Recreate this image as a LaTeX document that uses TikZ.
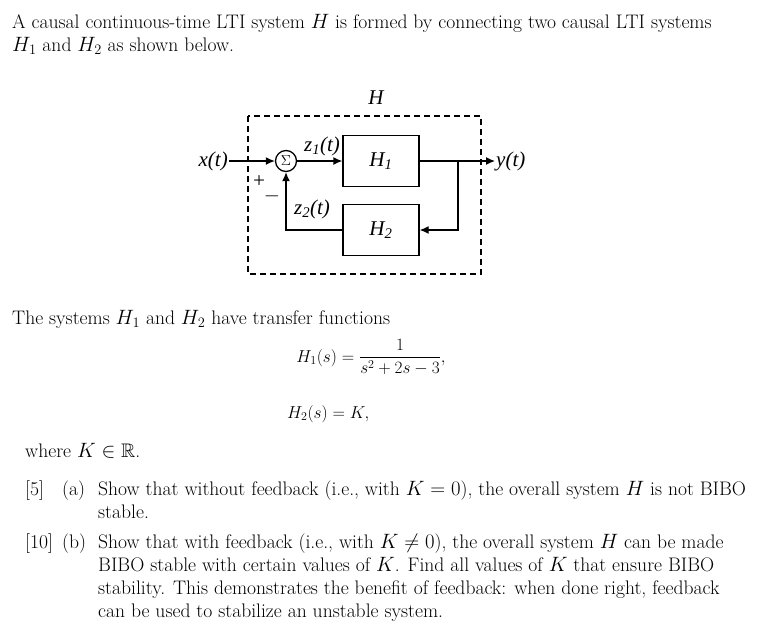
\documentclass[tikz,border=0pt]{standalone}
\usepackage{amsmath,amssymb}
\usepackage{fontspec}
\newfontfamily\diag{Liberation Serif}
\usetikzlibrary{arrows.meta}
\begin{document}
\begin{tikzpicture}[x=1pt,y=-1pt,
  txt/.style={anchor=base west,inner sep=0pt,font=\fontsize{19.6}{24}\selectfont},
  blk/.style={draw,line width=1.3pt,minimum width=76pt,minimum height=51pt,font=\diag\itshape\fontsize{21}{24}\selectfont},
  lab/.style={font=\diag\itshape\fontsize{21}{24}\selectfont,inner sep=1pt},
  sig/.style={line width=1.3pt,-{Latex[length=9pt,width=8pt]}},
  wire/.style={line width=1.3pt}]
\useasboundingbox (0,0) rectangle (759,630);
\node[txt] (l1) at (12,28) {A causal continuous-time LTI system $H$ is formed by connecting two causal LTI systems};
\node[txt] (l2) at (12,51) {$H_1$ and $H_2$ as shown below.};
% diagram
\draw[line width=1.3pt,dash pattern=on 6pt off 4pt] (248,116) rectangle (481,274);
\node[lab] (H) at (376,98) {H};
\node[draw,circle,line width=1.3pt,minimum size=21pt,inner sep=0pt,font=\fontsize{15}{15}\selectfont] (S) at (286,161) {$\Sigma$};
\node[blk] (H1) at (381,161) {H\textsubscript{1}};
\node[blk] (H2) at (381,230) {H\textsubscript{2}};
\node[lab,anchor=east] (x) at (229,161) {x(t)};
\node[lab,anchor=west] (y) at (495,161) {y(t)};
\coordinate (sp) at (458,161);
\draw[sig] (x) -- (S);
\draw[sig] (S) -- (H1);
\draw[sig] (H1) -- (y);
\draw[sig] (sp) |- (H2);
\draw[sig] (H2.west) -| (S.south);
\node[lab] (z1) at (322,146) {z\textsubscript{1}(t)};
\node[lab] (z2) at (312,209) {z\textsubscript{2}(t)};
\node[lab] (p) at (259,182) {+};
\node[lab] (m) at (272,196) {$-$};
% text
\node[txt] (l3) at (12,324) {The systems $H_1$ and $H_2$ have transfer functions};
\node[txt,anchor=base,font=\fontsize{18}{22}\selectfont] (e1) at (371,362) {$\displaystyle H_1(s)=\frac{1}{s^2+2s-3},$};
\node[txt,font=\fontsize{18}{22}\selectfont] (e2) at (287,418) {$H_2(s)=K,$};
\node[txt] (l4) at (25,457) {where $K\in\mathbb{R}$.};
\node[txt] (n5) at (25,495) {[5]};
\node[txt] (na) at (62,495) {(a)};
\node[txt] (a1) at (98,495) {Show that without feedback (i.e., with $K=0$), the overall system $H$ is not BIBO};
\node[txt] (a2) at (98,518) {stable.};
\node[txt] (n10) at (25,548) {[10]};
\node[txt] (nb) at (62,548) {(b)};
\node[txt] (b1) at (98,548) {Show that with feedback (i.e., with $K\neq0$), the overall system $H$ can be made};
\node[txt] (b2) at (98,571) {BIBO stable with certain values of $K$. Find all values of $K$ that ensure BIBO};
\node[txt] (b3) at (98,594) {stability. This demonstrates the benefit of feedback: when done right, feedback};
\node[txt] (b4) at (98,617) {can be used to stabilize an unstable system.};
\end{tikzpicture}
\end{document}
